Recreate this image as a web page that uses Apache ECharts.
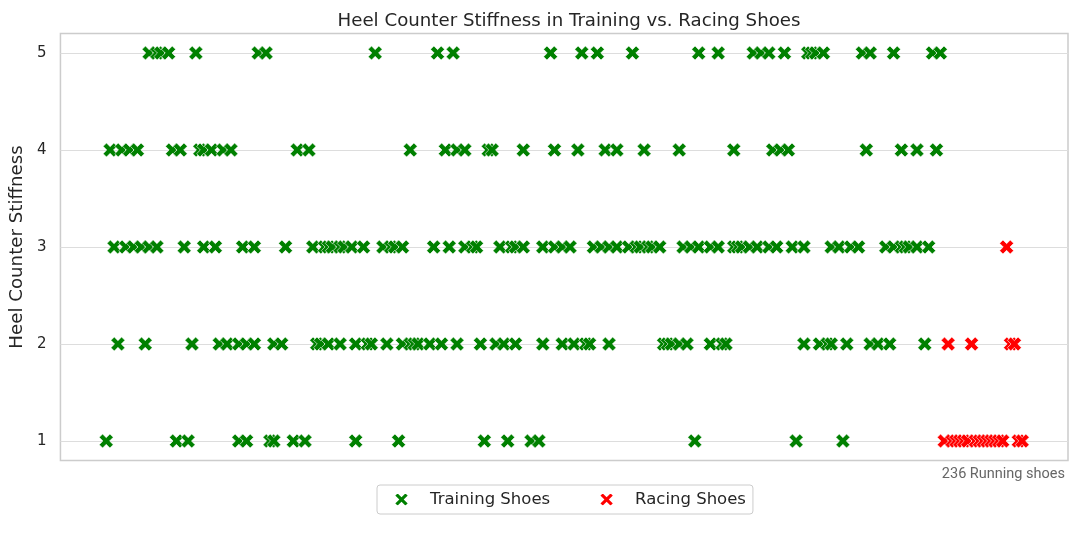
<!DOCTYPE html>
<html>
<head>
<meta charset="utf-8">
<script src="https://cdn.jsdelivr.net/npm/echarts@6/dist/echarts.min.js"></script>
<style>html,body{margin:0;padding:0;background:#fff;}#c{width:1080px;height:535px;}</style>
</head>
<body>
<div id="c"></div>
<script>
// Shoe index (0..235) for each stiffness level
const trainingStiff5 = [11,13,14,16,23,39,41,69,85,89,114,122,126,135,152,157,166,168,170,174,180,181,182,184,194,196,202,212,214];
const trainingStiff4 = [1,4,6,8,17,19,24,25,27,30,32,49,52,78,87,90,92,98,99,107,115,121,128,131,138,147,161,171,173,175,195,204,208,213];
const trainingStiff3 = [2,5,7,9,11,13,20,25,28,35,38,46,53,56,57,58,60,61,63,66,71,73,74,76,84,88,92,94,95,101,104,105,107,112,115,117,119,125,127,129,131,134,136,137,139,140,142,148,150,152,155,157,161,162,163,165,167,170,172,176,179,186,188,191,193,200,202,204,205,206,208,211];
const trainingStiff2 = [3,10,22,29,31,34,36,38,43,45,54,55,57,60,64,67,68,72,76,78,79,80,83,86,90,96,100,102,105,112,117,120,123,124,129,143,144,145,147,149,155,158,159,179,183,185,186,190,196,198,201,210];
const trainingStiff1 = [0,18,21,34,36,42,43,48,51,64,75,97,103,109,111,151,177,189];
const racingStiff3 = [231];
const racingStiff2 = [216,222,232,233];
const racingStiff1 = [215,217,218,219,220,221,223,224,225,226,227,228,229,230,234,235];
const stiffnessTicks = [1,2,3,4,5];
const totalShoes = 236;
const titleText = 'Heel Counter Stiffness in Training vs. Racing Shoes';
const yAxisTitle = 'Heel Counter Stiffness';
const noteText = totalShoes + ' Running shoes';

const X_PATH = 'path://M0,2.4L2.4,0L5,2.6L7.6,0L10,2.4L7.4,5L10,7.6L7.6,10L5,7.4L2.4,10L0,7.6L2.6,5Z';

function pts(list, level) { return list.map(i => [i, level]); }
const trainingData = [].concat(pts(trainingStiff1,1), pts(trainingStiff2,2), pts(trainingStiff3,3), pts(trainingStiff4,4), pts(trainingStiff5,5));
const racingData = [].concat(pts(racingStiff1,1), pts(racingStiff2,2), pts(racingStiff3,3));

const chart = echarts.init(document.getElementById('c'), null, {renderer: 'canvas'});
const span = totalShoes - 1;
chart.setOption({
  backgroundColor: '#fff',
  animation: false,
  textStyle: {fontFamily: 'DejaVu Sans'},
  title: {
    text: titleText, left: 564, top: 7, textAlign: 'center',
    textStyle: {fontSize: 18.2, fontWeight: 'normal', color: '#262626', fontFamily: 'DejaVu Sans'}
  },
  grid: {left: 60, right: 12, top: 33.6, bottom: 74.6, show: true, borderColor: '#cccccc', borderWidth: 1.5, containLabel: false},
  xAxis: {
    type: 'value', min: -0.05*span, max: span*1.05,
    axisLine: {show: false, onZero: false}, axisTick: {show: false}, axisLabel: {show: false}, splitLine: {show: false}
  },
  yAxis: {
    type: 'value', min: 0.8, max: 5.2,
    name: yAxisTitle, nameLocation: 'middle', nameGap: 31,
    nameTextStyle: {fontSize: 18.2, color: '#262626', fontFamily: 'DejaVu Sans'},
    axisLine: {show: false, onZero: false},
    axisTick: {show: true, customValues: stiffnessTicks, inside: true, length: 1008, lineStyle: {color: '#dddddd', width: 1.2}},
    axisLabel: {customValues: stiffnessTicks, fontSize: 15, color: '#262626', margin: 14, fontFamily: 'DejaVu Sans'},
    splitLine: {show: false}
  },
  legend: {
    top: 485, left: 377,
    itemGap: 48, itemWidth: 15, itemHeight: 15,
    padding: [6, 7, 6, 16],
    borderColor: '#cccccc', borderWidth: 1, borderRadius: 3,
    textStyle: {fontSize: 16.5, color: '#262626', fontFamily: 'DejaVu Sans', padding: [0,0,0,16]},
    data: [{name: 'Training Shoes', icon: X_PATH}, {name: 'Racing Shoes', icon: X_PATH}]
  },
  graphic: [{
    type: 'text', right: 15, top: 467,
    style: {text: noteText, fontSize: 14.5, fill: '#666666', fontFamily: 'Roboto'}
  }],
  series: [
    {name: 'Training Shoes', type: 'scatter', symbol: X_PATH, symbolSize: 14, data: trainingData,
     itemStyle: {color: '#008000', borderColor: '#ffffff', borderWidth: 0.6, opacity: 1}, z: 3},
    {name: 'Racing Shoes', type: 'scatter', symbol: X_PATH, symbolSize: 14, data: racingData,
     itemStyle: {color: '#ff0000', borderColor: '#ffffff', borderWidth: 0.6, opacity: 1}, z: 3}
  ]
});
</script>
</body>
</html>
